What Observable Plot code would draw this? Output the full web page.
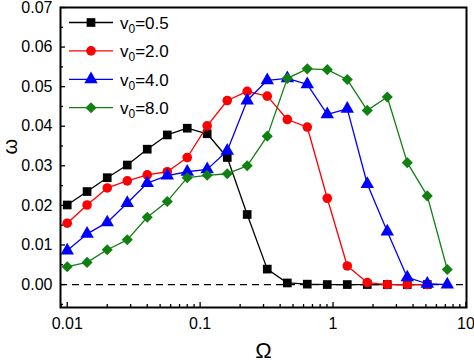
<!DOCTYPE html>
<html>
<head>
<meta charset="utf-8">
<script src="https://cdn.jsdelivr.net/npm/d3@7"></script>
<script src="https://cdn.jsdelivr.net/npm/@observablehq/plot@0.6"></script>
<style>
  html, body { margin: 0; padding: 0; background: white; overflow: hidden; }
  #chart { width: 474px; height: 363px; overflow: hidden; }
  #chart svg { display: block; max-width: none !important; width: 474px; height: 363px; }
</style>
</head>
<body>
<div id="chart"></div>
<script>
// Ω values (log-spaced by √2)
const omega = [0.01, 0.0141, 0.02, 0.0283, 0.04, 0.0566, 0.08, 0.113, 0.16, 0.226,
               0.32, 0.453, 0.64, 0.905, 1.28, 1.81, 2.56, 3.62, 5.12, 7.24];

const w05 = [0.0201, 0.0235, 0.0270, 0.0302, 0.0342, 0.0378, 0.0395, 0.0381, 0.0321, 0.0177,
             0.0039, 0.0004, 0.0001, 0.0000, 0.0000, 0.0000, 0.0000, 0.0000, 0.0000];
const w20 = [0.0155, 0.0201, 0.0244, 0.0262, 0.0277, 0.0285, 0.0321, 0.0401, 0.0465, 0.0488,
             0.0476, 0.0417, 0.0398, 0.0218, 0.0047, 0.0005, 0.0000, 0.0000, 0.0000];
const w40 = [0.0086, 0.0128, 0.0157, 0.0206, 0.0256, 0.0275, 0.0285, 0.0291, 0.0338, 0.0465,
             0.0516, 0.0521, 0.0506, 0.0430, 0.0444, 0.0254, 0.0134, 0.0018, 0.0002, 0.0000];
const w80 = [0.0045, 0.0056, 0.0088, 0.0113, 0.0170, 0.0210, 0.0270, 0.0276, 0.0280, 0.0300,
             0.0375, 0.0521, 0.0545, 0.0543, 0.0518, 0.0440, 0.0474, 0.0308, 0.0224, 0.0038];

const seriesNames = ["0.5", "2.0", "4.0", "8.0"];
const seriesValues = [w05, w20, w40, w80];
const seriesColors = ["#000000", "#ff0000", "#0000ff", "#108010"];
const seriesSymbols = ["square", "circle", "triangle", "diamond2"];
const seriesR = [4.9, 4.8, 5.0, 5.0];

const xTickLabels = [0.01, 0.1, 1, 10];
const xMinor = [2,3,4,5,6,7,8,9].flatMap(m => [0.001, 0.01, 0.1, 1].map(d => +(m * d).toPrecision(2))).filter(v => v > 0.0089 && v < 10.1);
const yTickLabels = [0.00, 0.01, 0.02, 0.03, 0.04, 0.05, 0.06, 0.07];
const yMinor = [-0.005, 0.005, 0.015, 0.025, 0.035, 0.045, 0.055, 0.065];

const rows = seriesValues.flatMap((vals, s) =>
  vals.map((v, i) => ({x: omega[i], y: v, s})));

const seriesMarks = seriesNames.flatMap((name, s) => {
  const data = rows.filter(d => d.s === s);
  return [
    Plot.line(data, {x: "x", y: "y", stroke: seriesColors[s], strokeWidth: 1.3}),
    Plot.dot(data, {x: "x", y: "y", symbol: () => seriesSymbols[s], fill: seriesColors[s], stroke: "none", r: seriesR[s]})
  ];
});

const svg = Plot.plot({
  width: 474,
  height: 363,
  marginLeft: 60,
  marginRight: 8,
  marginTop: 7,
  marginBottom: 56,
  style: {fontFamily: "'Liberation Sans', Arial, sans-serif", fontSize: "16px", background: "white", color: "black"},
  x: {type: "log", domain: [0.0089, 10.1]},
  y: {domain: [-0.0058, 0.07]},
  symbol: {type: "identity"},
  marks: [
    Plot.ruleY([0], {stroke: "black", strokeWidth: 1.2, strokeDasharray: "7,5"}),
    ...seriesMarks,
    Plot.axisY({ticks: yTickLabels, tickFormat: d => d.toFixed(2), tickSize: 0, tickPadding: 8, label: null, fontSize: 16}),
    Plot.axisY({ticks: yTickLabels, tickSize: -5, fill: "none", label: null, strokeWidth: 1.3}),
    Plot.axisY({ticks: yMinor, tickSize: -3, fill: "none", label: null, strokeWidth: 1.3}),
    Plot.axisX({ticks: xTickLabels, tickFormat: d => String(d), tickSize: 0, tickPadding: 10, label: null, fontSize: 16}),
    Plot.axisX({ticks: xTickLabels, tickSize: -5, fill: "none", label: null, strokeWidth: 1.3}),
    Plot.axisX({ticks: xMinor, tickSize: -3, fill: "none", label: null, strokeWidth: 1.3}),
    Plot.frame({stroke: "black", strokeWidth: 2}),
    Plot.text(["Ω"], {frameAnchor: "bottom", dy: 43, fontSize: 22, lineAnchor: "middle"}),
    Plot.text(["ω"], {frameAnchor: "left", dx: -50, dy: -3, rotate: -90, fontSize: 20})
  ]
});

// Legend (inside plot, top-left)
const g = d3.select(svg).append("g")
  .attr("font-family", "'Liberation Sans', Arial, sans-serif")
  .attr("text-anchor", "start");
const legX0 = 69, legX1 = 113, legY0 = 22.5, legDy = 28.4;
seriesNames.forEach((name, s) => {
  const cy = legY0 + s * legDy;
  g.append("line").attr("x1", legX0).attr("x2", legX1).attr("y1", cy).attr("y2", cy)
    .attr("stroke", seriesColors[s]).attr("stroke-width", 1.3);
  const sym = {square: d3.symbolSquare, circle: d3.symbolCircle, triangle: d3.symbolTriangle, diamond2: d3.symbolDiamond2}[seriesSymbols[s]];
  g.append("path").attr("d", d3.symbol(sym, seriesR[s] * seriesR[s] * Math.PI)())
    .attr("transform", `translate(${(legX0 + legX1) / 2},${cy})`).attr("fill", seriesColors[s]);
  const t = g.append("text").attr("x", 120).attr("y", cy + 6.5).attr("font-size", 17)
    .attr("fill", "black").attr("text-anchor", "start");
  t.append("tspan").text("v");
  t.append("tspan").attr("font-size", 12).attr("dy", 4).text("0");
  t.append("tspan").attr("dy", -4).text("=" + name);
});

document.getElementById("chart").appendChild(svg);
</script>
</body>
</html>
